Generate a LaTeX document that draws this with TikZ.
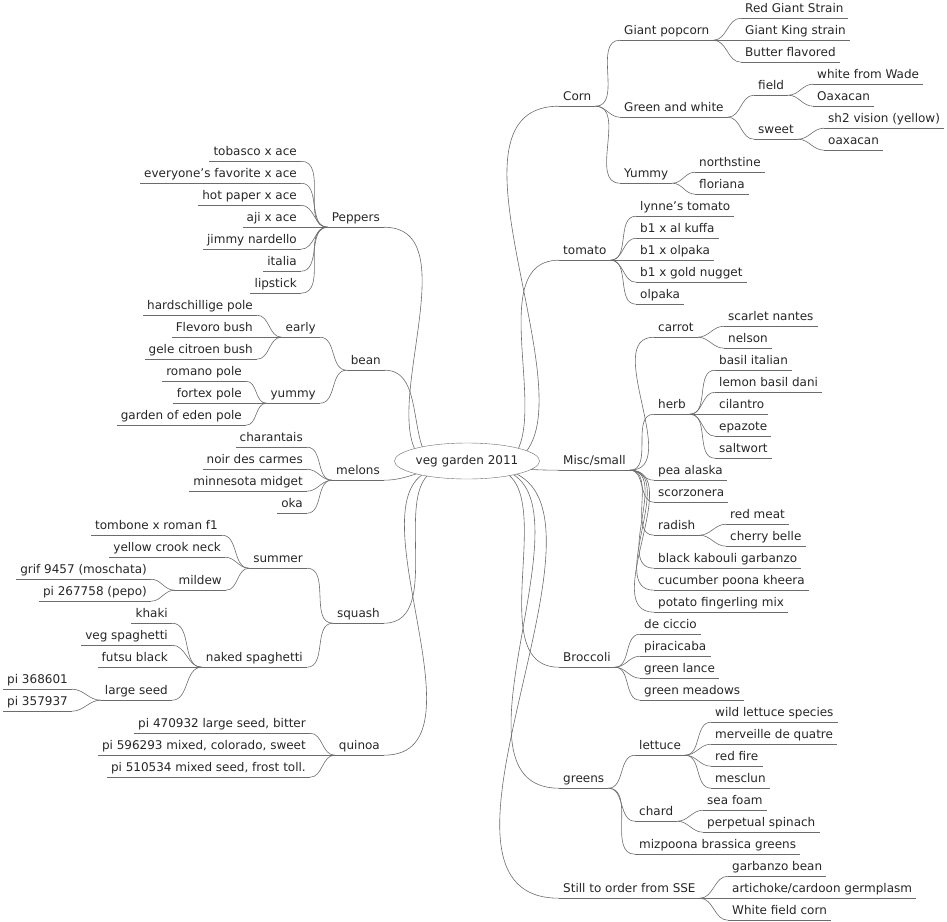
\documentclass[tikz,border=0pt]{standalone}
\usepackage{fontspec}
\setmainfont{DejaVu Sans}
\usetikzlibrary{shapes.geometric}
\begin{document}
\begin{tikzpicture}[x=1pt,y=-1pt,
  ln/.style={draw=gray!85!black,line width=0.6pt},
  bx/.style={minimum height=18pt,inner xsep=4pt,inner ysep=0pt,text height=9pt,text depth=3pt,
    font=\fontsize{12}{14}\selectfont,text=black!85,
    append after command={(\tikzlastnode.south west) edge[ln] (\tikzlastnode.south east)}},
  rb/.style={bx,anchor=west},
  lb/.style={bx,anchor=east}]
\useasboundingbox (0,0) rectangle (947,921);
\newcommand\myR[4]{\node[rb] (#1) at (#2-4,#3) {#4};}
\newcommand\myL[4]{\node[lb] (#1) at (#2+4,#3) {#4};}
\newcommand\myCR[2]{\draw[ln] (#1.south east) to[out=0,in=180] (#2.south west);}
\newcommand\myCL[2]{\draw[ln] (#1.south west) to[out=180,in=0] (#2.south east);}
% right side
\myR{corn}{563}{97}{Corn}
\myR{gp}{624}{31}{Giant popcorn}
\myR{rgs}{745}{9}{Red Giant Strain}
\myR{gks}{745}{31}{Giant King strain}
\myR{bf}{745}{53}{Butter flavored}
\myR{gw}{624}{108}{Green and white}
\myR{field}{758}{86}{field}
\myR{wfw}{817}{75}{white from Wade}
\myR{oax1}{817}{97}{Oaxacan}
\myR{sweet}{758}{130}{sweet}
\myR{sh2}{828}{119}{sh2 vision (yellow)}
\myR{oax2}{828}{141}{oaxacan}
\myR{yum}{624}{174}{Yummy}
\myR{north}{699}{163}{northstine}
\myR{flor}{699}{185}{floriana}
\myR{tom}{563}{251}{tomato}
\myR{t1}{640}{207}{lynne's tomato}
\myR{t2}{640}{229}{b1 x al kuffa}
\myR{t3}{640}{251}{b1 x olpaka}
\myR{t4}{640}{273}{b1 x gold nugget}
\myR{t5}{640}{295}{olpaka}
\myR{misc}{563}{461}{Misc/small}
\myR{car}{658}{328}{carrot}
\myR{sn}{728}{317}{scarlet nantes}
\myR{nel}{728}{339}{nelson}
\myR{herb}{658}{405}{herb}
\myR{h1}{719}{361}{basil italian}
\myR{h2}{719}{383}{lemon basil dani}
\myR{h3}{719}{405}{cilantro}
\myR{h4}{719}{427}{epazote}
\myR{h5}{719}{449}{saltwort}
\myR{pea}{658}{471}{pea alaska}
\myR{sco}{658}{493}{scorzonera}
\myR{rad}{658}{526}{radish}
\myR{rm}{730}{515}{red meat}
\myR{cb}{730}{537}{cherry belle}
\myR{bkg}{658}{559}{black kabouli garbanzo}
\myR{cpk}{658}{581}{cucumber poona kheera}
\myR{pfm}{658}{603}{potato fingerling mix}
\myR{broc}{563}{658}{Broccoli}
\myR{b1}{644}{625}{de ciccio}
\myR{b2}{644}{647}{piracicaba}
\myR{b3}{644}{669}{green lance}
\myR{b4}{644}{691}{green meadows}
\myR{gr}{563}{779}{greens}
\myR{let}{639}{746}{lettuce}
\myR{l1}{715}{713}{wild lettuce species}
\myR{l2}{715}{735}{merveille de quatre}
\myR{l3}{715}{757}{red fire}
\myR{l4}{715}{779}{mesclun}
\myR{chard}{639}{812}{chard}
\myR{c1}{707}{801}{sea foam}
\myR{c2}{707}{823}{perpetual spinach}
\myR{miz}{639}{845}{mizpoona brassica greens}
\myR{sse}{563}{889}{Still to order from SSE}
\myR{s1}{732}{867}{garbanzo bean}
\myR{s2}{732}{889}{artichoke/cardoon germplasm}
\myR{s3}{732}{911}{White field corn}
\myCR{corn}{gp}\myCR{corn}{gw}\myCR{corn}{yum}
\myCR{gp}{rgs}\myCR{gp}{gks}\myCR{gp}{bf}
\myCR{gw}{field}\myCR{gw}{sweet}\myCR{field}{wfw}\myCR{field}{oax1}\myCR{sweet}{sh2}\myCR{sweet}{oax2}
\myCR{yum}{north}\myCR{yum}{flor}
\foreach \c in {t1,t2,t3,t4,t5}{\myCR{tom}{\c}}
\foreach \c in {car,herb,pea,sco,rad,bkg,cpk,pfm}{\myCR{misc}{\c}}
\myCR{car}{sn}\myCR{car}{nel}
\foreach \c in {h1,h2,h3,h4,h5}{\myCR{herb}{\c}}
\myCR{rad}{rm}\myCR{rad}{cb}
\foreach \c in {b1,b2,b3,b4}{\myCR{broc}{\c}}
\myCR{gr}{let}\myCR{gr}{chard}\myCR{gr}{miz}
\foreach \c in {l1,l2,l3,l4}{\myCR{let}{\c}}
\myCR{chard}{c1}\myCR{chard}{c2}
\foreach \c in {s1,s2,s3}{\myCR{sse}{\c}}
% left side
\myL{pep}{380}{218}{Peppers}
\myL{p1}{297}{152}{tobasco x ace}
\myL{p2}{297}{174}{everyone's favorite x ace}
\myL{p3}{297}{196}{hot paper x ace}
\myL{p4}{297}{218}{aji x ace}
\myL{p5}{297}{240}{jimmy nardello}
\myL{p6}{297}{262}{italia}
\myL{p7}{297}{284}{lipstick}
\myL{bean}{381}{361}{bean}
\myL{early}{316}{328}{early}
\myL{e1}{253}{306}{hardschillige pole}
\myL{e2}{253}{328}{Flevoro bush}
\myL{e3}{253}{350}{gele citroen bush}
\myL{yb}{316}{394}{yummy}
\myL{y1}{242}{372}{romano pole}
\myL{y2}{242}{394}{fortex pole}
\myL{y3}{242}{416}{garden of eden pole}
\myL{mel}{380}{471}{melons}
\myL{m1}{303}{438}{charantais}
\myL{m2}{303}{460}{noir des carmes}
\myL{m3}{303}{482}{minnesota midget}
\myL{m4}{303}{504}{oka}
\myL{sq}{380}{614}{squash}
\myL{sum}{303}{559}{summer}
\myL{su1}{218}{526}{tombone x roman f1}
\myL{su2}{221}{548}{yellow crook neck}
\myL{mil}{222}{581}{mildew}
\myL{mi1}{147}{570}{grif 9457 (moschata)}
\myL{mi2}{147}{592}{pi 267758 (pepo)}
\myL{ns}{303}{658}{naked spaghetti}
\myL{n1}{168}{614}{khaki}
\myL{n2}{168}{636}{veg spaghetti}
\myL{n3}{168}{658}{futsu black}
\myL{ls}{168}{691}{large seed}
\myL{ls1}{68}{680}{pi 368601}
\myL{ls2}{68}{702}{pi 357937}
\myL{qui}{380}{746}{quinoa}
\myL{q1}{306}{724}{pi 470932 large seed, bitter}
\myL{q2}{306}{746}{pi 596293 mixed, colorado, sweet}
\myL{q3}{306}{768}{pi 510534 mixed seed, frost toll.}
\foreach \c in {p1,p2,p3,p4,p5,p6,p7}{\myCL{pep}{\c}}
\myCL{bean}{early}\myCL{bean}{yb}
\foreach \c in {e1,e2,e3}{\myCL{early}{\c}}
\foreach \c in {y1,y2,y3}{\myCL{yb}{\c}}
\foreach \c in {m1,m2,m3,m4}{\myCL{mel}{\c}}
\myCL{sq}{sum}\myCL{sq}{ns}
\myCL{sum}{su1}\myCL{sum}{su2}\myCL{sum}{mil}
\myCL{mil}{mi1}\myCL{mil}{mi2}
\myCL{ns}{n1}\myCL{ns}{n2}\myCL{ns}{n3}\myCL{ns}{ls}
\myCL{ls}{ls1}\myCL{ls}{ls2}
\foreach \c in {q1,q2,q3}{\myCL{qui}{\c}}
% root
\coordinate (rr) at (487,468);
\coordinate (rl) at (447,468);
\foreach \c in {corn,tom,misc,broc,gr,sse}{\draw[ln] (rr) to[out=0,in=180] (\c.south west);}
\foreach \c in {pep,bean,mel,sq,qui}{\draw[ln] (rl) to[out=180,in=0] (\c.south east);}
\node[draw=gray!85!black,fill=white,ellipse,minimum width=120pt,minimum height=36pt,inner sep=0pt,
  font=\fontsize{12}{14}\selectfont,text=black!85] (root) at (467,461) {veg garden 2011};
\end{tikzpicture}
\end{document}
